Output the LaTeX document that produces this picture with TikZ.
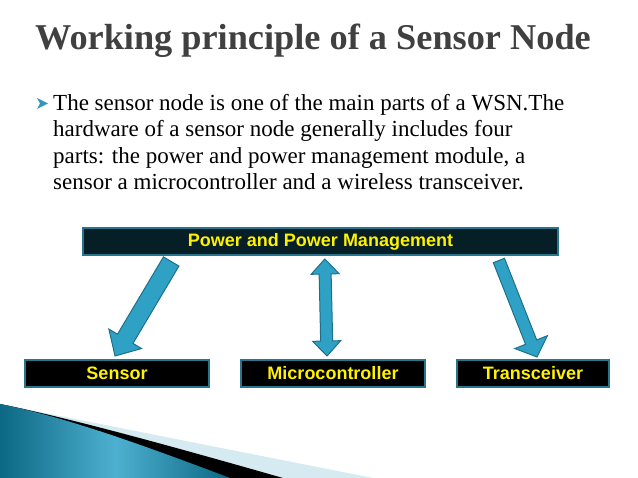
\documentclass[tikz,border=0pt]{standalone}
\usepackage{fontspec}
\setmainfont{Liberation Serif}
\newfontfamily\boxfont{Liberation Sans}
\usetikzlibrary{calc,positioning}

\definecolor{titlegray}{RGB}{64,64,64}
\definecolor{boxline}{RGB}{40,118,142}
\definecolor{topfill}{RGB}{6,30,38}
\definecolor{arrowfill}{RGB}{47,161,196}
\definecolor{arrowline}{RGB}{28,112,140}
\definecolor{tealdark}{RGB}{12,104,132}
\definecolor{teallight}{RGB}{78,176,208}
\definecolor{stripe}{RGB}{214,234,242}
\definecolor{bullet}{RGB}{52,150,192}

\tikzset{
  box/.style={draw=boxline, line width=2pt, fill=black, text=yellow,
    font=\boxfont\fontsize{18}{18}\selectfont\bfseries,
    minimum width=184pt, minimum height=27pt, inner sep=0pt},
  arrowshape/.style={fill=arrowfill, draw=arrowline, line width=1pt, line join=miter}
}

% single block arrow: from, to, shaft half width, head half width, head length
\newcommand{\blockarrow}[5]{%
  \coordinate (ba-h) at ($(#2)!#5!(#1)$);
  \draw[arrowshape] ($(#1)!#3!90:(#2)$) -- ($(ba-h)!#3!90:(#2)$) -- ($(ba-h)!#4!90:(#2)$) -- (#2)
    -- ($(ba-h)!#4!-90:(#2)$) -- ($(ba-h)!#3!-90:(#2)$) -- ($(#1)!#3!-90:(#2)$) -- cycle;}
% double block arrow: same arguments
\newcommand{\dblarrow}[5]{%
  \coordinate (da-a) at ($(#1)!#5!(#2)$);
  \coordinate (da-b) at ($(#2)!#5!(#1)$);
  \draw[arrowshape] (#1) -- ($(da-a)!#4!90:(#2)$) -- ($(da-a)!#3!90:(#2)$) -- ($(da-b)!#3!90:(#2)$)
    -- ($(da-b)!#4!90:(#2)$) -- (#2) -- ($(da-b)!#4!-90:(#2)$) -- ($(da-b)!#3!-90:(#2)$)
    -- ($(da-a)!#3!-90:(#2)$) -- ($(da-a)!#4!-90:(#2)$) -- cycle;}

\begin{document}
\begin{tikzpicture}[x=1pt,y=1pt,yscale=-1,xscale=1]
  \useasboundingbox (0,0) rectangle (638,478);

  %Shape: corner stripes
  \fill[stripe] (0,404) .. controls (50,414) and (120,428) .. (373,478) -- (0,478) -- cycle;
  \fill[black] (0,404) .. controls (60,416) and (150,440) .. (283,478) -- (0,478) -- cycle;
  \shade[left color=tealdark, right color=tealdark, middle color=teallight]
    (0,404) .. controls (60,416) and (130,440) .. (230,478) -- (0,478) -- cycle;

  % Title
  \node[anchor=base west, inner sep=0pt, text=titlegray,
    font=\fontsize{36.3}{36}\selectfont\bfseries] (title) at (35,50) {Working principle of a Sensor Node};

  %Shape: bullet
  \fill[bullet] (37,98) -- (48,103.5) -- (37,109) -- (40,103.5) -- cycle;
  % Text Node
  \node[anchor=north west, inner sep=0pt, align=left,
    font=\fontsize{23}{26.5}\selectfont] (body) at (53,94)
    {The sensor node is one of the main parts of a WSN.The\\
     hardware of a sensor node generally includes four\\
     parts: the power and power management module, a\\
     sensor a microcontroller and a wireless transceiver.};

  % Boxes
  \node[box, fill=topfill, minimum width=475pt] (power) at (320.5,241.5) {Power and Power Management};
  \node[box] (sensor) at (117,373.5) {Sensor};
  \node[box, right=30pt of sensor] (mcu) {Microcontroller};
  \node[box, right=30pt of mcu, minimum width=152pt] (trx) {Transceiver};

  % Arrows
  \coordinate (s-start) at ($(power.south west)!0.187!(power.south east)+(0,5.5)$);
  \coordinate (s-end) at ($(sensor.north)+(-2,-3)$);
  \coordinate (m-start) at ($(power.south west)!0.509!(power.south east)+(0,3)$);
  \coordinate (m-end) at ($(mcu.north)+(-6,-3)$);
  \coordinate (t-start) at ($(power.south west)!0.874!(power.south east)+(0,4.5)$);
  \coordinate (t-end) at ($(trx.north)+(4,-2)$);
  \blockarrow{s-start}{s-end}{9pt}{19pt}{20pt}
  \dblarrow{m-start}{m-end}{6pt}{14pt}{15pt}
  \blockarrow{t-start}{t-end}{6pt}{17.5pt}{16pt}
\end{tikzpicture}
\end{document}
